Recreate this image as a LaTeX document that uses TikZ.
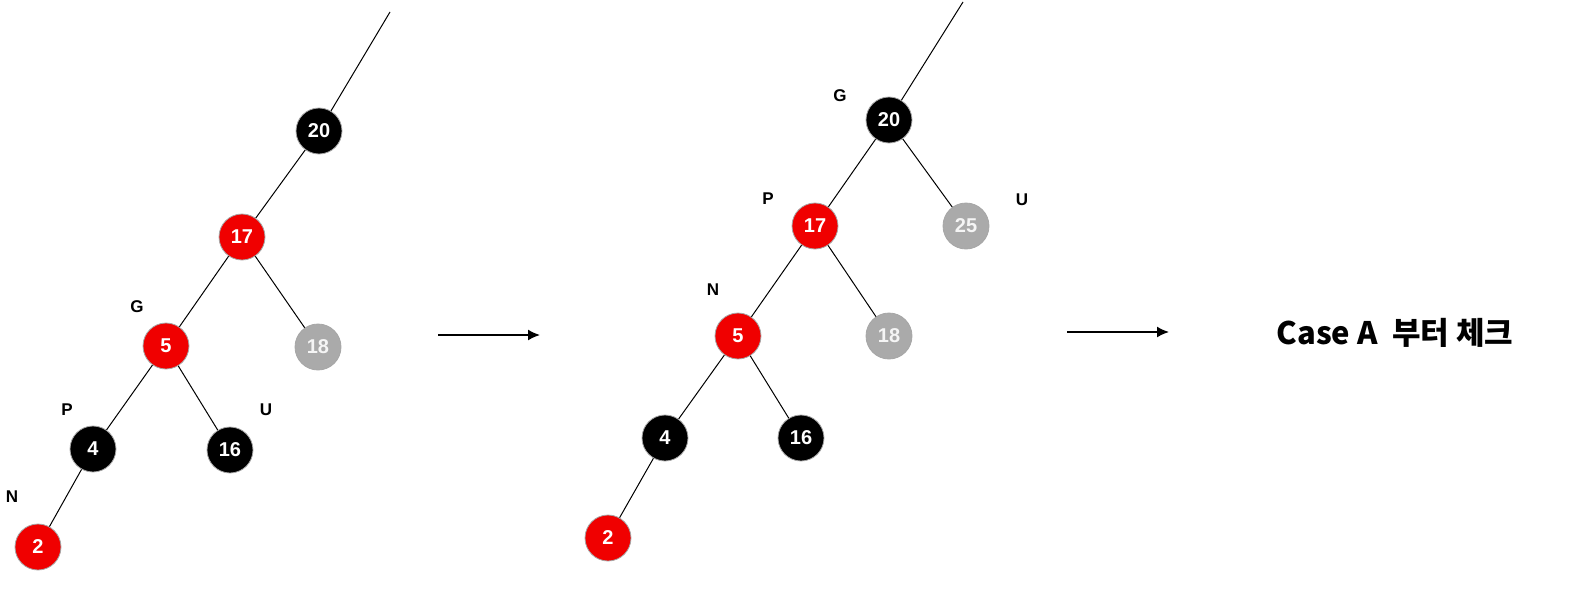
\documentclass[tikz,border=0pt]{standalone}
\usetikzlibrary{arrows.meta}
\usepackage{fontspec}
\setmainfont{Liberation Sans}
\newfontfamily\kr{Noto Sans CJK KR}
\definecolor{rbred}{HTML}{F00000}
\definecolor{rbgray}{HTML}{AAAAAA}
\begin{document}
\begin{tikzpicture}[x=1pt,y=-1pt,
  nd/.style={circle,minimum size=46pt,inner sep=0pt,draw=gray!70,line width=0.8pt,text=white,font=\fontsize{20}{20}\selectfont\bfseries},
  bk/.style={nd,fill=black},
  rd/.style={nd,fill=rbred},
  gy/.style={nd,fill=rbgray,text=white!92!gray},
  lb/.style={font=\fontsize{17}{17}\selectfont\bfseries},
  ed/.style={line width=1pt},
  ar/.style={line width=1.6pt,-{Latex[length=12pt,width=11pt]}}]
\useasboundingbox (0,0) rectangle (1583,589);
% left tree
\node[bk] (a20) at (319,131) {20};
\node[rd] (a17) at (242,237) {17};
\node[rd] (a5) at (166,346) {5};
\node[gy] (a18) at (318,347) {18};
\node[bk] (a4) at (93,449) {4};
\node[bk] (a16) at (230,450) {16};
\node[rd] (a2) at (38,547) {2};
\coordinate (atop) at (390,12);
\draw[ed] (a20) -- (atop);
\draw[ed] (a20) -- (a17); \draw[ed] (a17) -- (a5); \draw[ed] (a17) -- (a18);
\draw[ed] (a5) -- (a4); \draw[ed] (a5) -- (a16); \draw[ed] (a4) -- (a2);
\node[lb] (lg1) at (137,307) {G};
\node[lb] (lp1) at (67,410) {P};
\node[lb] (lu1) at (266,410) {U};
\node[lb] (ln1) at (12,497) {N};
% arrow 1
\coordinate (r1s) at (438,335); \coordinate (r1e) at (540,335);
\draw[ar] (r1s) -- (r1e);
% middle tree
\node[bk] (b20) at (889,120) {20};
\node[rd] (b17) at (815,226) {17};
\node[gy] (b25) at (966,226) {25};
\node[rd] (b5) at (738,336) {5};
\node[gy] (b18) at (889,336) {18};
\node[bk] (b4) at (665,438) {4};
\node[bk] (b16) at (801,438) {16};
\node[rd] (b2) at (608,538) {2};
\coordinate (btop) at (963,2);
\draw[ed] (b20) -- (btop);
\draw[ed] (b20) -- (b17); \draw[ed] (b20) -- (b25);
\draw[ed] (b17) -- (b5); \draw[ed] (b17) -- (b18);
\draw[ed] (b5) -- (b4); \draw[ed] (b5) -- (b16); \draw[ed] (b4) -- (b2);
\node[lb] (lg2) at (840,96) {G};
\node[lb] (lp2) at (768,199) {P};
\node[lb] (lu2) at (1022,200) {U};
\node[lb] (ln2) at (713,290) {N};
% arrow 2
\coordinate (r2s) at (1067,332); \coordinate (r2e) at (1169,332);
\draw[ar] (r2s) -- (r2e);
\node[font=\kr\fontsize{31}{31}\selectfont\bfseries] (txt) at (1395,333) {Case A\ \ 부터 체크};
\end{tikzpicture}
\end{document}
